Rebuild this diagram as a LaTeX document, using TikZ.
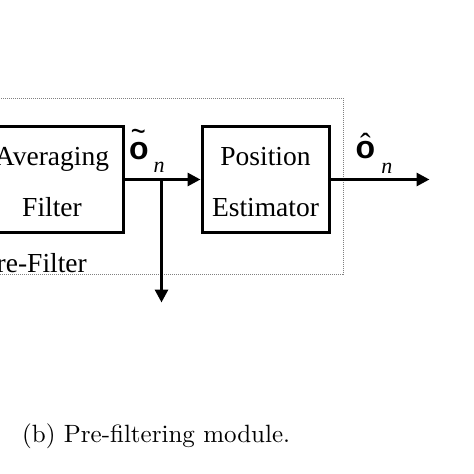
\documentclass[tikz,border=0pt]{standalone}
\usepackage{graphicx}
\usepackage{fontspec}
\newfontfamily\boxfont{Liberation Serif}
\newfontfamily\lblfont{Liberation Sans}
\newfontfamily\capfont{lmroman10-regular}[Extension=.otf]
\usetikzlibrary{arrows.meta,calc}
\tikzset{
  block/.style={shape=rectangle, draw, line width=3pt, inner sep=0},
  blocktext/.style={anchor=center, align=center, inner sep=0, yshift=-2.5pt,
    font=\boxfont\fontsize{27.5}{51}\selectfont},
  sig/.style={-{Triangle[length=13pt,width=13pt]}, line width=3pt},
  frame/.style={draw=gray, line width=0.6pt, dash pattern={on 1pt off 1pt}},
  sym/.style={inner sep=0, font=\lblfont\bfseries\fontsize{32}{32}\selectfont}
}
\newcommand{\tildeo}{\ooalign{o\cr\hidewidth\raisebox{16.5pt}{\mdseries\scalebox{0.8}[1.05]{\textasciitilde}}\kern1pt\hidewidth\cr}}
\newcommand{\hato}{\ooalign{o\cr\hidewidth\raisebox{3pt}{\boxfont\mdseries\char"02C6}\hidewidth\cr}}
\newcommand{\subn}[1]{\raisebox{#1}{\boxfont\mdseries\fontsize{22}{22}\selectfont\itshape n}}
\begin{document}
\begin{tikzpicture}[x=1pt, y=-1pt]
        \clip (0,0) rectangle (474,474);
        % Frame and blocks:
        \draw[frame] (-60,98) rectangle (343,274);
        \node[block, minimum width=142pt, minimum height=106pt] (avg) at (52,179.5){} node[blocktext] at (avg){Averaging\\Filter};
        \node[block, minimum width=127pt, minimum height=106pt] (pos) at (265.5,179.5){} node[blocktext] at (pos){Position\\Estimator};
        \node[anchor=base east, inner sep=0, font=\boxfont\fontsize{27.5}{27.5}\selectfont] (prelbl) at (87,272) {Pre-Filter};
        % Wires:
        \coordinate (tap) at ($(avg.east)+(37,0)$);
        \coordinate (tapend) at ($(tap)+(0,123)$);
        \coordinate (out) at ($(pos.east)+(99,0)$);
        \draw[sig] (avg.east) -- (pos.west);
        \draw[sig] (tap) -- (tapend);
        \draw[sig] (pos.east) -- (out);
        % Signal labels:
        \node[sym, anchor=base west] (olbl) at (129,159) {\tildeo\kern5pt\subn{-13pt}};
        \node[sym, anchor=base west] (ohatlbl) at (355.5,158) {\hato\kern6pt\subn{-15pt}};
        % Caption:
        \node[anchor=base west, inner sep=0, font=\capfont\fontsize{25}{25}\selectfont] (cap) at (22,442) {(b) Pre-filtering module.};
      \end{tikzpicture}
\end{document}
